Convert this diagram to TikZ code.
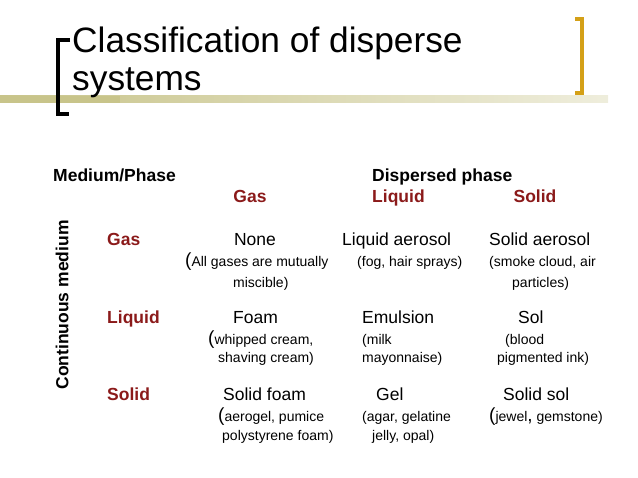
\documentclass[tikz,border=0pt]{standalone}
\usepackage{fontspec}
\setmainfont{Liberation Sans}
\definecolor{hdr}{HTML}{8B1A1A}
\definecolor{olive}{HTML}{C8C48A}
\definecolor{gold}{HTML}{D4A017}
\begin{document}
\begin{tikzpicture}[x=1pt,y=-1pt,
  lb/.style={anchor=base west,inner sep=0pt,font=\fontsize{17.5}{20}\selectfont},
  hd/.style={lb,font=\fontsize{17.5}{20}\selectfont\bfseries,text=hdr},
  bk/.style={lb,font=\fontsize{17.5}{20}\selectfont\bfseries},
  sm/.style={lb,font=\fontsize{14}{16}\selectfont}]
\useasboundingbox (0,0) rectangle (638,478);
\shade[left color=olive,right color=olive!30] (0,96) rectangle (608,103);
\fill[olive] (0,96) rectangle (120,103);
\draw[line width=4.5pt] (70,40) -- (58,40) -- (58,114) -- (69,114);
\draw[gold,line width=4.5pt] (575,19) -- (582,19) -- (582,93) -- (575,93);
\node[anchor=base west,inner sep=0pt,font=\fontsize{35.3}{40}\selectfont] (t1) at (72,53) {Classification of disperse};
\node[anchor=base west,inner sep=0pt,font=\fontsize{35.3}{40}\selectfont] (t2) at (72,91) {systems};
\node[bk] (mp) at (53,182) {Medium/Phase};
\node[bk] (dp) at (372,182) {Dispersed phase};
\node[hd,anchor=base] (cg) at (250,203) {Gas};
\node[hd] (cl) at (372,203) {Liquid};
\node[hd,anchor=base] (cs) at (535,203) {Solid};
\node[bk,anchor=center,rotate=90] (cm) at (62,305) {Continuous medium};
\node[hd] (rg) at (107,246) {Gas};
\node[hd] (rl) at (107,324) {Liquid};
\node[hd] (rs) at (107,401) {Solid};
% gas row
\node[lb,anchor=base] (a1) at (255,246) {None};
\node[lb] (a2) at (342,246) {Liquid aerosol};
\node[lb] (a3) at (489,246) {Solid aerosol};
\node[sm] (a4) at (185,267) {{\fontsize{19}{19}\selectfont(}All gases are mutually};
\node[sm] (a5) at (233,288) {miscible)};
\node[sm] (a6) at (357,267) {(fog, hair sprays)};
\node[sm] (a7) at (489,267) {(smoke cloud, air};
\node[sm] (a8) at (512,288) {particles)};
% liquid row
\node[lb] (b1) at (233,324) {Foam};
\node[lb] (b2) at (362,324) {Emulsion};
\node[lb] (b3) at (518,324) {Sol};
\node[sm] (b4) at (208,345) {{\fontsize{19}{19}\selectfont(}whipped cream,};
\node[sm] (b5) at (218,363) {shaving cream)};
\node[sm] (b6) at (362,345) {(milk};
\node[sm] (b7) at (362,363) {mayonnaise)};
\node[sm] (b8) at (505,345) {(blood};
\node[sm] (b9) at (497,363) {pigmented ink)};
% solid row
\node[lb] (c1) at (223,401) {Solid foam};
\node[lb] (c2) at (376,401) {Gel};
\node[lb] (c3) at (503,401) {Solid sol};
\node[sm] (c4) at (218,422) {{\fontsize{19}{19}\selectfont(}aerogel, pumice};
\node[sm] (c5) at (222,441) {polystyrene foam)};
\node[sm] (c6) at (362,422) {(agar, gelatine};
\node[sm] (c7) at (372,441) {jelly, opal)};
\node[sm] (c8) at (489,422) {{\fontsize{19}{19}\selectfont(}jewel{\fontsize{19}{19}\selectfont,} gemstone)};
\end{tikzpicture}
\end{document}
